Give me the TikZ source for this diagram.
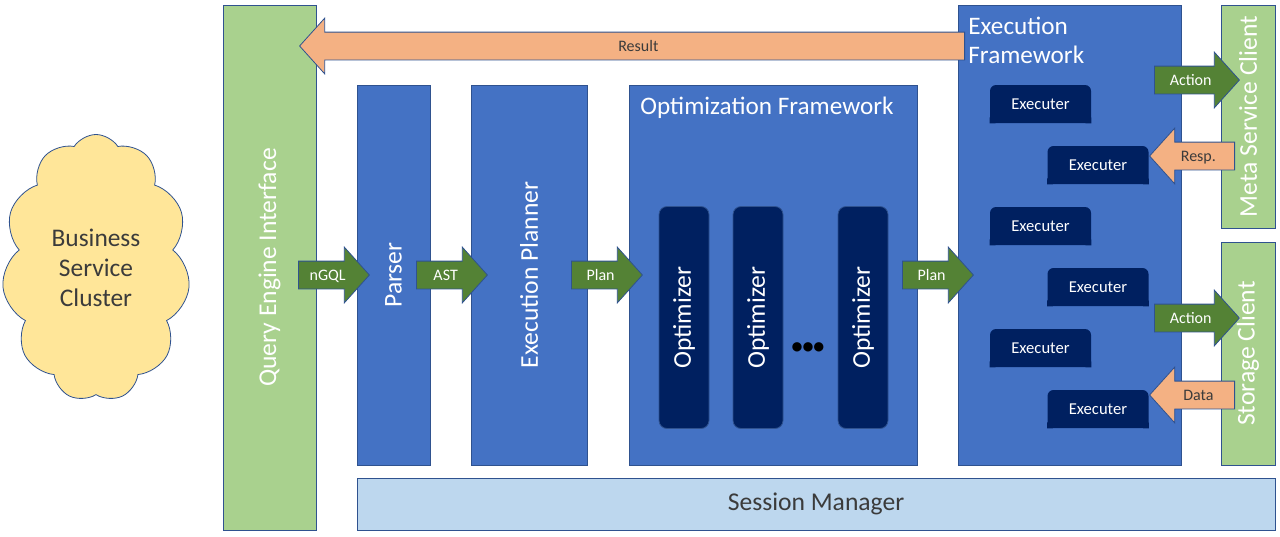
\documentclass[tikz,border=0pt]{standalone}
\usepackage{fontspec}
\setmainfont{Carlito}
\usepackage{xcolor}
\usepackage{tikz}
\usetikzlibrary{shapes}
\usetikzlibrary{shapes.arrows}
\usetikzlibrary{shapes.symbols}
\definecolor{blockblue}{HTML}{4472C4}
\definecolor{edgeblue}{HTML}{2F528F}
\definecolor{navy}{HTML}{002060}
\definecolor{leaf}{HTML}{A9D18E}
\definecolor{moss}{HTML}{548235}
\definecolor{sky}{HTML}{BDD7EE}
\definecolor{peach}{HTML}{F4B183}
\definecolor{sand}{HTML}{FFE699}
\definecolor{ink}{HTML}{3B3B3B}
\tikzset{ block/.style = {rectangle, draw=edgeblue, fill=blockblue, text=white, inner sep=0pt} }
\tikzset{ client/.style = {block, fill=leaf} }
\tikzset{ vlabel/.style = {rotate=90, text=white, font=\fontsize{12.8}{15}\selectfont} }
\tikzset{ optimizer/.style = {rectangle, rounded corners=4pt, draw=edgeblue, fill=navy, minimum width=25pt, minimum height=111pt} }
\tikzset{ executer/.style = {rectangle, rounded corners=3pt, fill=navy, text=white, minimum width=50.5pt, minimum height=19pt, font=\fontsize{8.3}{10}\selectfont} }
\tikzset{ flow/.style = {single arrow, draw=edgeblue, fill=moss, text=white, single arrow head extend=7pt, single arrow tip angle=96, inner xsep=2pt, inner ysep=4pt, text height=5.5pt, text depth=0pt, minimum height=35.5pt, font=\fontsize{8}{9}\selectfont} }
\tikzset{ reply/.style = {flow, fill=peach, text=ink, shape border rotate=180} }

\begin{document}
\begin{tikzpicture}[x=0.5pt, y=-0.5pt]
    \useasboundingbox (0,0) rectangle (1280,536);
    \node [cloud, cloud puffs=11, cloud puff arc=115, cloud ignores aspect, draw=edgeblue, fill=sand, minimum width=94pt, minimum height=133.5pt, align=center, text=ink, font=\fontsize{12.7}{15}\selectfont] (cluster) at (96, 268) {Business\\Service\\Cluster};
    \node [client, minimum width=46.5pt, minimum height=262.5pt, label={[vlabel]center:Query Engine Interface}] (qei) at (269.5, 267.5) {};
    \node [block, minimum width=36.5pt, minimum height=190pt, label={[vlabel]center:Parser}] (parser) at (393.5, 275) {};
    \node [block, minimum width=58pt, minimum height=190pt, label={[vlabel]center:Execution Planner}] (planner) at (529, 275) {};
    \node [block, minimum width=144pt, minimum height=190pt] (optfw) at (773, 275) {};
    \node [block, minimum width=111.5pt, minimum height=230pt] (execfw) at (1069.5, 235) {};
    \node [client, minimum width=27pt, minimum height=111.5pt, label={[vlabel]center:Meta Service Client}] (meta) at (1248, 116.5) {};
    \node [client, minimum width=27pt, minimum height=111.5pt, label={[vlabel]center:Storage Client}] (storage) at (1248, 353.5) {};
    \node [block, fill=sky, text=ink, minimum width=459pt, minimum height=26pt, font=\fontsize{12.8}{15}\selectfont] (session) at (816, 504) {Session Manager};

    \node [anchor=base, text=white, font=\fontsize{12.6}{15}\selectfont] (opttitle) at (767, 114) {Optimization Framework};
    \node [anchor=north west, inner sep=0pt, align=left, text=white, font=\fontsize{12.6}{14.5}\selectfont] (exectitle) at (968, 17) {Execution\\Framework};

    \foreach \x [count=\i] in {684, 758, 863}
        \node [optimizer, label={[vlabel]center:Optimizer}] (opt\i) at (\x, 317.5) {};
    \node [text=black, font=\fontsize{11}{11}\selectfont\bfseries] (dots) at (808, 348) {\textbullet\textbullet\textbullet};

    \foreach \y/\x [count=\i] in {104/1040.5, 165/1098, 226/1040.5, 287/1098, 348/1040.5, 409/1098}
        \node [executer] (ex\i) at (\x, \y) {Executer};
    \foreach \i in {1,...,6}
        \fill [navy] (ex\i.south west) rectangle ++(6,-6) (ex\i.south east) rectangle ++(-6,-6);

    \node [flow, anchor=tail] (ngql) at (298, 275) {nGQL};
    \node [flow, anchor=tail] (ast) at (416, 275) {AST};
    \node [flow, anchor=tail] (plan1) at (571, 275) {Plan};
    \node [flow, anchor=tail] (plan2) at (902, 275) {Plan};
    \node [flow, anchor=tail, minimum height=42.5pt] (action1) at (1154, 80) {Action};
    \node [reply, anchor=tail, minimum height=42.5pt] (resp) at (1235, 156) {Resp.};
    \node [flow, anchor=tail, minimum height=42.5pt] (action2) at (1154, 318) {Action};
    \node [reply, anchor=tail, minimum height=42.5pt] (data) at (1235, 395) {Data};
    \node [reply, anchor=tail, minimum height=332.5pt] (result) at (965, 46) {Result};
\end{tikzpicture}
\end{document}
